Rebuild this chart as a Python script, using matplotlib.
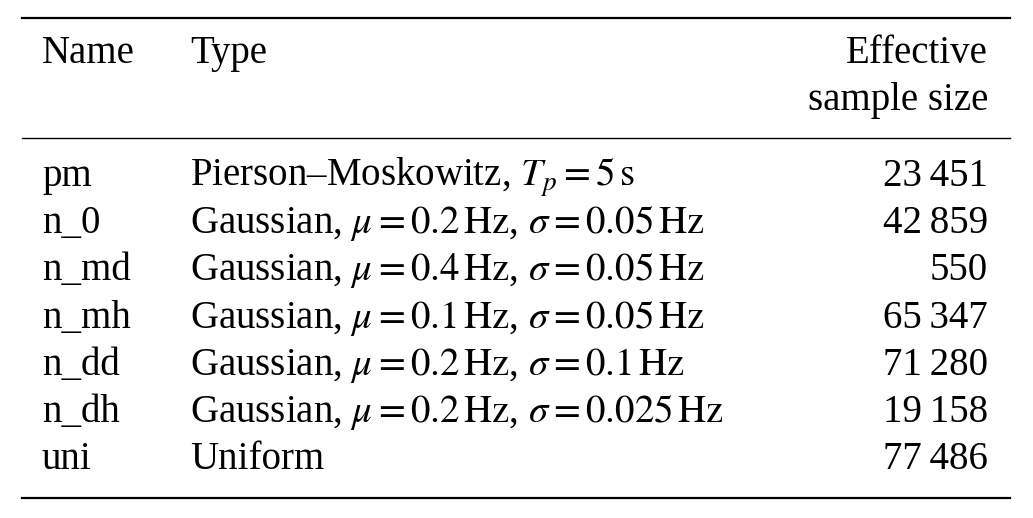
import matplotlib
matplotlib.use("Agg")
import matplotlib.pyplot as plt

plt.rcParams["font.family"] = ["Liberation Serif", "DejaVu Serif"]
plt.rcParams["mathtext.fontset"] = "stix"

# table content
names = ["pm", "n_0", "n_md", "n_mh", "n_dd", "n_dh", "uni"]
types = [
    r"Pierson–Moskowitz, $T_p = 5\,\mathrm{s}$",
    r"Gaussian, $\mu = 0.2\,\mathrm{Hz}$, $\sigma = 0.05\,\mathrm{Hz}$",
    r"Gaussian, $\mu = 0.4\,\mathrm{Hz}$, $\sigma = 0.05\,\mathrm{Hz}$",
    r"Gaussian, $\mu = 0.1\,\mathrm{Hz}$, $\sigma = 0.05\,\mathrm{Hz}$",
    r"Gaussian, $\mu = 0.2\,\mathrm{Hz}$, $\sigma = 0.1\,\mathrm{Hz}$",
    r"Gaussian, $\mu = 0.2\,\mathrm{Hz}$, $\sigma = 0.025\,\mathrm{Hz}$",
    "Uniform",
]
sizes = [23451, 42859, 550, 65347, 71280, 19158, 77486]


def fmt(n):
    return f"{n:,}".replace(",", "\u2009")


W, H = 1033, 518
fig = plt.figure(figsize=(W / 100, H / 100), dpi=100)
ax = fig.add_axes([0, 0, 1, 1])
ax.set_xlim(0, W)
ax.set_ylim(H, 0)
ax.axis("off")

fs = 28
for y, lw in [(18, 1.6), (138, 1.0), (498, 1.6)]:
    ax.plot([22, 1010], [y, y], color="black", lw=lw)

ax.text(42, 63, "Name", fontsize=fs, va="baseline")
ax.text(190, 63, "Type", fontsize=fs, va="baseline")
ax.text(988, 63, "Effective", fontsize=fs, va="baseline", ha="right")
ax.text(988, 110, "sample size", fontsize=fs, va="baseline", ha="right")

y0, dy = 186, 47.2
for i, (n, t, s) in enumerate(zip(names, types, sizes)):
    y = y0 + i * dy
    ax.text(42, y, n, fontsize=fs, va="baseline")
    ax.text(190, y, t, fontsize=fs, va="baseline")
    ax.text(988, y, fmt(s), fontsize=fs, va="baseline", ha="right")

fig.savefig("out.png", dpi=100)
